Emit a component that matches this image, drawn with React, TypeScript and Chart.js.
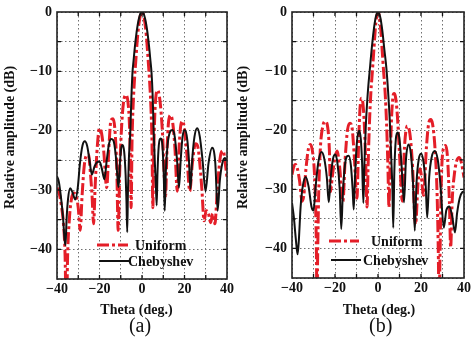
import { useEffect, useRef } from "react";
import { Chart, registerables } from "chart.js";

Chart.register(...registerables);

const RED = "rgb(228, 30, 40)";
const BLACK = "#111111";
const GRID = "#6f6f6f";
const SERIF = "'Liberation Serif', 'Times New Roman', serif";

// Radiation patterns: [theta (deg.), relative amplitude (dB)]
const uniformA: [number, number][] = [
  [-40, -29.6], [-39, -30.5], [-38, -32.5], [-37, -35.5], [-36.2, -41], [-35.6, -52], [-35, -41],
  [-34.2, -35], [-33.2, -31.5], [-32, -30.5], [-31, -31], [-30, -33], [-29.1, -36.8], [-28.2, -31],
  [-27.2, -26], [-26.2, -24.2], [-25.2, -24], [-24.3, -27], [-23.5, -31], [-22.8, -35.7], [-22, -29],
  [-21, -22.5], [-20, -19.6], [-19, -20.5], [-18, -23.5], [-16.6, -29.6], [-15.6, -23], [-14.6, -18.2],
  [-13.6, -18], [-12.7, -20], [-11.9, -26], [-11.2, -36.8], [-10.5, -27], [-9.7, -20], [-8.8, -15.5],
  [-7.6, -14], [-6.6, -15.2], [-5.9, -19], [-5.4, -26], [-5.1, -33], [-4.7, -22], [-4.2, -16],
  [-3.5, -11.2], [-3, -8.6], [-2, -3.8], [-1, -0.95], [0, 0], [1, -0.95], [2, -3.8], [3, -8.6],
  [3.5, -11.2], [4.2, -16], [4.7, -22], [5.1, -33], [5.5, -24], [6, -17.5], [6.6, -14], [7.4, -13.2],
  [8.2, -14.2], [9, -17], [9.8, -21.5], [10.5, -28], [11.1, -31], [11.7, -24], [12.5, -18.5],
  [13.5, -17.4], [14.5, -18.8], [15.5, -23], [16.6, -30.2], [17.5, -22.5], [18.4, -18.8], [19.1, -18.4],
  [19.9, -19.5], [21, -23.5], [22.5, -30.2], [23.7, -25.5], [25.2, -22.2], [26.2, -22.6], [27.2, -25.5],
  [28.2, -30], [29.2, -35.2], [30.2, -33.5], [31.2, -33.8], [32.3, -35.5], [33.3, -34], [34.3, -35.7],
  [35.2, -31.5], [36.2, -26.5], [37.2, -23.8], [38.2, -23.4], [39.2, -25.5], [40, -28],
];

const chebyshevA: [number, number][] = [
  [-40, -27.7], [-39.2, -28.5], [-38.2, -31], [-37.2, -34.5], [-36.4, -38.5], [-36, -39.3], [-35.5, -35],
  [-34.8, -31.5], [-33.8, -29.7], [-32.8, -30.3], [-31.4, -31.6], [-30.2, -29.5], [-29.2, -25.5],
  [-28, -22.5], [-26.9, -21.8], [-25.8, -22.6], [-24.7, -25], [-23.6, -27.4], [-22.3, -26], [-21.1, -25.3],
  [-20, -25.2], [-18.9, -26.4], [-17.7, -28.2], [-16.6, -25], [-15.5, -22.2], [-14.5, -21.4], [-13.5, -21.6],
  [-12.4, -24], [-11.4, -28.5], [-11, -29.5], [-10.4, -25.5], [-9.6, -22.6], [-9.1, -22.4], [-8.4, -23.5],
  [-7.7, -27.5], [-7.3, -32], [-6.95, -37.1], [-6.6, -30], [-6.2, -25], [-5.5, -20], [-5, -14.5],
  [-4.5, -10.3], [-4, -8.3], [-3, -4.7], [-2, -2.1], [-1, -0.5], [0, 0], [1, -0.5], [2, -2.1], [3, -4.7],
  [4, -8.3], [4.5, -10.3], [5, -14], [5.5, -20], [6, -25], [6.5, -29], [6.9, -32.6], [7.3, -27],
  [7.9, -22.5], [8.8, -21.3], [9.6, -22.5], [10.2, -27], [10.7, -33.5], [11.2, -27], [12, -22.5],
  [13.2, -20.2], [14.3, -19.9], [15.4, -21], [16.5, -25], [17.4, -29.6], [18.2, -25], [19.1, -21],
  [20.2, -19.9], [21.3, -21.5], [22.1, -25], [22.8, -29.8], [23.6, -25], [24.7, -21], [26, -19.6],
  [27.2, -21], [28.5, -25], [29.9, -30.2], [31.3, -25.5], [33, -22.9], [34.5, -25.5], [35.6, -33.5],
  [36.6, -28.5], [37.8, -25.5], [39, -24.6], [40, -25],
];

const uniformB: [number, number][] = [
  [-40, -27.5], [-39.2, -26.2], [-38.4, -25.8], [-37.5, -26.5], [-36.5, -28.5], [-35.3, -32], [-34.5, -31],
  [-33.5, -26.5], [-32.3, -23], [-31.4, -22.4], [-30.5, -23.5], [-29.6, -27], [-29, -33], [-28.6, -42],
  [-28.4, -52], [-28.1, -42], [-27.6, -31], [-26.8, -23], [-25.6, -19.2], [-24.5, -18.5], [-23.4, -19.5],
  [-22.6, -23.5], [-22.1, -30.4], [-21.3, -28], [-20.2, -25], [-19, -23.5], [-17.9, -26], [-16.3, -32],
  [-15.3, -25], [-14.2, -20], [-13, -18.8], [-12.1, -19.5], [-11.1, -24], [-9.8, -31.5], [-9, -22],
  [-8.4, -16.5], [-7.7, -14.6], [-7, -15.5], [-6.3, -19.5], [-5.6, -27], [-5.1, -33], [-4.6, -26],
  [-4, -19], [-3.3, -13.5], [-2.6, -10], [-2, -6.8], [-1, -1.8], [0, 0], [1, -1.8], [2, -6.8], [2.6, -10],
  [3.3, -13.5], [4, -19], [4.6, -26], [5.1, -33], [5.6, -26], [6.3, -18], [6.9, -14.5], [7.5, -13.8],
  [8.2, -14.5], [9, -17.5], [10, -24], [11.3, -32], [12.3, -23], [13.6, -19.3], [14.8, -20.5], [15.9, -25],
  [17.5, -35.9], [18.6, -29], [19.6, -26.5], [21.2, -31], [22.5, -23], [23.6, -18.8], [24.5, -18.2],
  [25.4, -19], [26.5, -23], [27.5, -31], [28.1, -42], [28.4, -52], [28.8, -42], [29.5, -28], [30.5, -23],
  [31.5, -22.6], [32.4, -25], [33.2, -32], [33.8, -39.8], [34.5, -32], [35.5, -27.5], [36.6, -25.2],
  [37.8, -24.6], [38.8, -25.5], [40, -28],
];

const chebyshevB: [number, number][] = [
  [-40, -32.3], [-39.2, -34.5], [-38.2, -38.5], [-37.4, -41], [-36.8, -38.5], [-36, -33], [-35, -29.5],
  [-33.6, -27.9], [-32.3, -29.5], [-30.9, -33], [-30, -33.6], [-29, -29.5], [-27.8, -25.5], [-26.3, -23.7],
  [-25, -24.8], [-23.8, -28], [-22.9, -32.2], [-22, -28], [-20.9, -24.8], [-19.9, -24.1], [-18.9, -25.5],
  [-17.8, -30], [-17.1, -36.7], [-16.4, -31], [-15.4, -26], [-14.4, -24.4], [-13.6, -24.3], [-12.6, -26],
  [-11.8, -30], [-11.3, -33.4], [-10.6, -27], [-9.8, -22], [-8.8, -20.1], [-8, -21.5], [-7.4, -25.5],
  [-6.8, -32.3], [-6.3, -25.5], [-5.7, -19.5], [-5, -15], [-4.5, -12.5], [-3.7, -9.3], [-3, -6.5],
  [-2, -3.1], [-1, -0.8], [0, 0], [1, -0.8], [2, -3.1], [3, -6.5], [3.9, -9.5], [4.7, -13.5], [5.5, -18.5],
  [6.2, -25], [6.7, -30], [7.1, -36.5], [7.6, -27], [8.3, -21.5], [9.1, -20.4], [9.9, -21.2], [10.8, -25],
  [12.1, -32.2], [13, -25], [14.2, -22.4], [15.3, -24], [16.3, -29], [17.1, -37], [17.9, -29], [19, -24.8],
  [20.1, -24], [21.2, -25.5], [22.2, -29.5], [22.9, -34.8], [23.8, -28], [25, -24.5], [26.4, -23.5],
  [27.8, -25], [29, -29], [30.6, -36.5], [31.8, -33.5], [33.2, -32.9], [34.5, -34.5], [35.8, -37.3],
  [36.8, -34], [38, -31.5], [39.2, -30.5], [40, -30.4],
];

const seriesNames = ["Uniform", "Chebyshev"];
const xTickLabels = [-40, -20, 0, 20, 40];
const yTickLabels = [0, -10, -20, -30, -40];

type PanelSpec = {
  tag: string;
  left: number;
  uniform: [number, number][];
  chebyshev: [number, number][];
  pad: { top: number; right: number; bottom: number; left: number };
  yAxisWidth: number;
  yTitleX: number;
  xTitleX: number;
  tagX: number;
  legend: { redY: number; redX0: number; redX1: number; redText: number; blkY: number; blkX0: number; blkX1: number; blkText: number };
};

const panels: PanelSpec[] = [
  {
    tag: "(a)",
    left: 0,
    uniform: uniformA,
    chebyshev: chebyshevA,
    pad: { top: 9, right: 9, bottom: 18, left: 0 },
    yAxisWidth: 57,
    yTitleX: 10,
    xTitleX: 136.5,
    tagX: 140,
    legend: { redY: 245, redX0: 97, redX1: 128, redText: 135, blkY: 261, blkX0: 99, blkX1: 130, blkText: 128 },
  },
  {
    tag: "(b)",
    left: 237,
    uniform: uniformB,
    chebyshev: chebyshevB,
    pad: { top: 7, right: 10, bottom: 19, left: 0 },
    yAxisWidth: 55,
    yTitleX: 6,
    xTitleX: 142,
    tagX: 143.7,
    legend: { redY: 241, redX0: 92, redX1: 122, redText: 134, blkY: 260, blkX0: 94, blkX1: 124, blkText: 126 },
  },
];

const W = 237;
const H = 337;
const RED_DASH = [12, 3, 3, 3];

const fmt = (v: number) => (v < 0 ? "\u2212" + Math.abs(v) : String(v));

function Panel({ spec }: { spec: PanelSpec }) {
  const ref = useRef<HTMLCanvasElement>(null);

  useEffect(() => {
    const canvas = ref.current;
    if (!canvas) return;

    const decor = {
      id: "panelDecor",
      afterDraw(chart: Chart) {
        const { ctx, chartArea: a } = chart;
        const xs = chart.scales.x;
        const ys = chart.scales.y;
        ctx.save();

        // inward tick marks on all four sides
        ctx.strokeStyle = BLACK;
        ctx.lineWidth = 1.3;
        ctx.beginPath();
        for (let v = -30; v <= 30; v += 10) {
          const px = xs.getPixelForValue(v);
          ctx.moveTo(px, a.bottom);
          ctx.lineTo(px, a.bottom - 4);
          ctx.moveTo(px, a.top);
          ctx.lineTo(px, a.top + 4);
        }
        for (let v = -40; v <= -5; v += 5) {
          const py = ys.getPixelForValue(v);
          ctx.moveTo(a.left, py);
          ctx.lineTo(a.left + 4, py);
          ctx.moveTo(a.right, py);
          ctx.lineTo(a.right - 4, py);
        }
        ctx.stroke();

        // plot frame
        ctx.lineWidth = 1.6;
        ctx.strokeStyle = "#222";
        ctx.strokeRect(a.left, a.top, a.right - a.left, a.bottom - a.top);

        // legend
        const L = spec.legend;
        ctx.lineCap = "butt";
        ctx.setLineDash(RED_DASH);
        ctx.strokeStyle = RED;
        ctx.lineWidth = 3;
        ctx.beginPath();
        ctx.moveTo(L.redX0, L.redY);
        ctx.lineTo(L.redX1, L.redY);
        ctx.stroke();
        ctx.setLineDash([]);
        ctx.strokeStyle = BLACK;
        ctx.lineWidth = 2;
        ctx.beginPath();
        ctx.moveTo(L.blkX0, L.blkY);
        ctx.lineTo(L.blkX1, L.blkY);
        ctx.stroke();

        ctx.fillStyle = BLACK;
        ctx.font = `bold 14px ${SERIF}`;
        ctx.textAlign = "left";
        ctx.textBaseline = "middle";
        ctx.fillText(seriesNames[0], L.redText, L.redY + 1);
        ctx.fillText(seriesNames[1], L.blkText, L.blkY + 1);

        // axis titles
        ctx.textAlign = "center";
        ctx.fillText("Theta (deg.)", spec.xTitleX, 310);
        ctx.save();
        ctx.translate(spec.yTitleX, 137.5);
        ctx.rotate(-Math.PI / 2);
        ctx.fillText("Relative amplitude (dB)", 0, 0);
        ctx.restore();

        // panel tag
        ctx.font = `20px ${SERIF}`;
        ctx.fillText(spec.tag, spec.tagX, 327);
        ctx.restore();
      },
    };

    const tickFont = { family: SERIF, size: 14, weight: "bold" as const, lineHeight: 1 };

    const chart = new Chart(canvas, {
      type: "line",
      data: {
        datasets: [
          {
            label: seriesNames[0],
            data: spec.uniform.map(([x, y]) => ({ x, y })),
            borderColor: RED,
            borderWidth: 3,
            borderDash: RED_DASH,
            pointRadius: 0,
            cubicInterpolationMode: "monotone",
            order: 1,
          },
          {
            label: seriesNames[1],
            data: spec.chebyshev.map(([x, y]) => ({ x, y })),
            borderColor: BLACK,
            borderWidth: 2,
            pointRadius: 0,
            cubicInterpolationMode: "monotone",
            order: 0,
          },
        ],
      },
      options: {
        responsive: false,
        animation: false,
        events: [],
        layout: { padding: spec.pad },
        plugins: { legend: { display: false }, tooltip: { enabled: false }, title: { display: false } },
        scales: {
          x: {
            type: "linear",
            min: -40,
            max: 40,
            afterFit: (s: any) => {
              s.height = 40;
            },
            ticks: {
              stepSize: 10,
              autoSkip: false,
              maxRotation: 0,
              minRotation: 0,
              padding: 3,
              color: BLACK,
              font: tickFont,
              callback: (v: any) => (xTickLabels.includes(Number(v)) ? fmt(Number(v)) : ""),
            },
            grid: { color: GRID, lineWidth: 1, drawTicks: false },
            border: { display: false, dash: [1.5, 2.5] },
          },
          y: {
            type: "linear",
            min: -45,
            max: 0,
            afterFit: (s: any) => {
              s.width = spec.yAxisWidth;
            },
            ticks: {
              stepSize: 5,
              autoSkip: false,
              padding: 5,
              color: BLACK,
              font: tickFont,
              callback: (v: any) => (yTickLabels.includes(Number(v)) ? fmt(Number(v)) : ""),
            },
            grid: { color: GRID, lineWidth: 1, drawTicks: false },
            border: { display: false, dash: [1.5, 2.5] },
          },
        },
      },
      plugins: [decor],
    });

    return () => chart.destroy();
  }, [spec]);

  return (
    <div style={{ position: "absolute", left: spec.left, top: 0, width: W, height: H }}>
      <canvas ref={ref} width={W} height={H} style={{ display: "block", width: W, height: H }} />
    </div>
  );
}

export default function App() {
  return (
    <div style={{ position: "fixed", left: 0, top: 0, width: 474, height: 337, background: "#fff", overflow: "hidden" }}>
      {panels.map((p) => (
        <Panel key={p.tag} spec={p} />
      ))}
    </div>
  );
}
